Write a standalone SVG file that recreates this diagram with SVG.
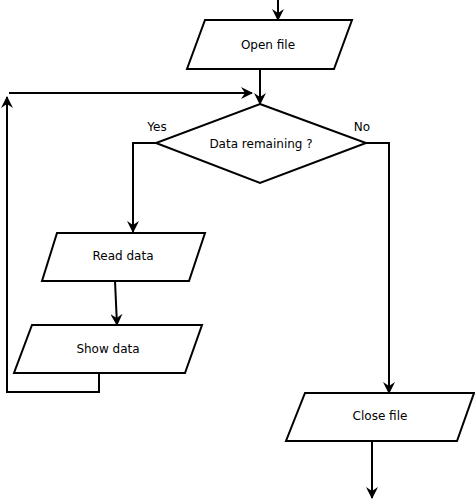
<svg xmlns="http://www.w3.org/2000/svg" width="475" height="502" viewBox="0 0 475 502">
<defs>
<marker id="arr" viewBox="0 0 12 12" refX="11" refY="6" markerWidth="12" markerHeight="12" markerUnits="userSpaceOnUse" orient="auto">
<path d="M0,0 L12,6 L0,12 L4,6 z" fill="#000"/>
</marker>
<style>
.shape{fill:#fff;stroke:#000;stroke-width:2;stroke-linejoin:miter}
.edge{fill:none;stroke:#000;stroke-width:2;marker-end:url(#arr)}
.plain{fill:none;stroke:#000;stroke-width:2}
text{font-family:"DejaVu Sans",Verdana,sans-serif;font-size:12px;fill:#000}
.c{text-anchor:middle}
</style>
</defs>
<rect width="475" height="502" fill="#fff"/>
<g id="connectors">
<path class="edge" d="M278,0 V20"/>
<path class="edge" d="M260,69 V104"/>
<path class="edge" d="M9,93 H252"/>
<path class="edge" d="M156,143 H133 V232"/>
<path class="edge" d="M366,143 H389 V393"/>
<path class="edge" d="M115,281 L117,325"/>
<path class="edge" d="M99,373 V392 H7 V97"/>
<path class="edge" d="M372,441 V498"/>
</g>
<g id="open-file">
<polygon class="shape" points="205,20 352,20 334,69 187,69"/>
<text class="c" x="268" y="49">Open file</text>
</g>
<g id="data-remaining">
<polygon class="shape" points="260,104 366,143 260,183 156,143"/>
<text class="c" x="261" y="148">Data remaining ?</text>
</g>
<g id="labels">
<text class="c" x="157" y="131">Yes</text>
<text class="c" x="362" y="131">No</text>
</g>
<g id="read-data">
<polygon class="shape" points="57,233 205,233 189,281 42,281"/>
<text class="c" x="123" y="260">Read data</text>
</g>
<g id="show-data">
<polygon class="shape" points="32,325 202,325 185,373 14,373"/>
<text class="c" x="108" y="353">Show data</text>
</g>
<g id="close-file">
<polygon class="shape" points="305,393 474,393 457,441 286,441"/>
<text class="c" x="380" y="420">Close file</text>
</g>
</svg>
